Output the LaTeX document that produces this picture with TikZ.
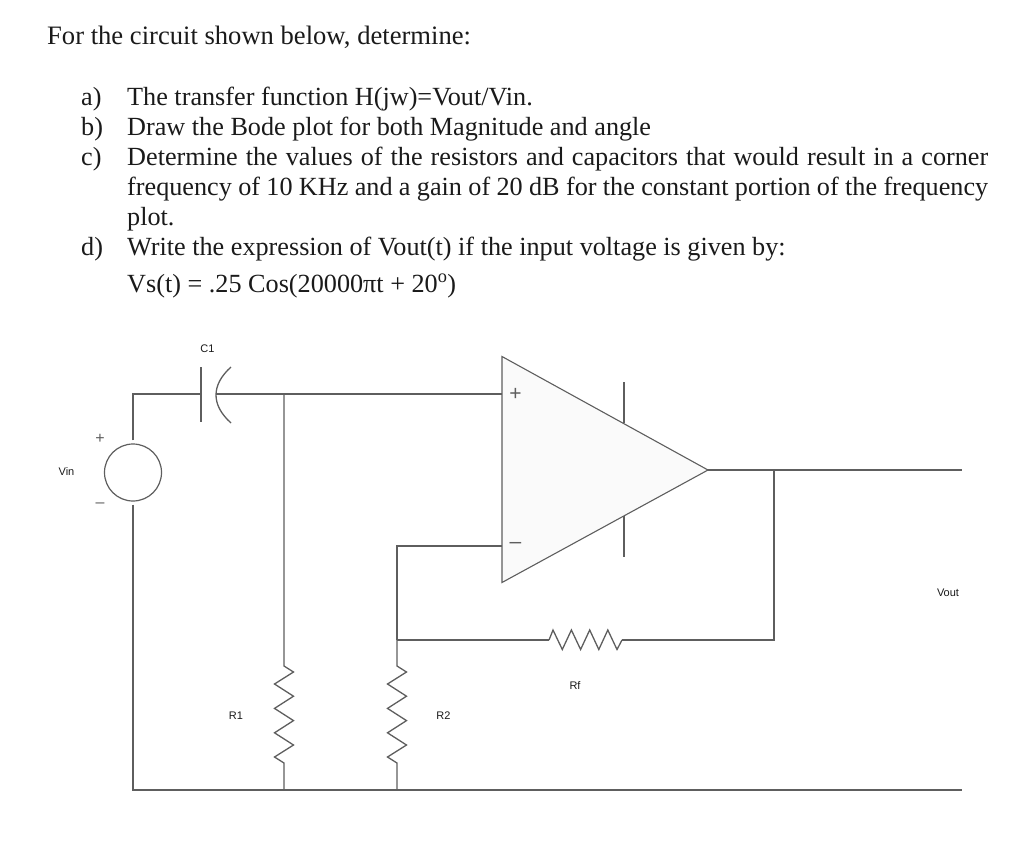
\documentclass[tikz,border=0pt]{standalone}
\usepackage{fontspec}
\setmainfont{Liberation Serif}
\setsansfont{Liberation Sans}
\definecolor{wirecol}{HTML}{5E5E5E}
\definecolor{inkcol}{HTML}{1A1A1A}
\tikzset{
  wire/.style={draw=wirecol,line width=1.3pt},
  para/.style={anchor=base west,inner sep=0pt,text=inkcol,font=\fontsize{26.2}{30}\selectfont},
  part/.style={inner sep=0pt,text=inkcol,font=\sffamily\fontsize{11}{12}\selectfont},
  sign/.style={inner sep=0pt,text=wirecol,font=\sffamily\fontsize{21}{21}\selectfont},
  smallsign/.style={inner sep=0pt,text=wirecol,font=\sffamily\fontsize{16}{16}\selectfont},
}
\begin{document}
\begin{tikzpicture}[x=1pt,y=-1pt]
    \useasboundingbox (0,0) rectangle (1024,843);
    % question text
    \node[para,font=\fontsize{26.6}{30}\selectfont] (q0) at (47,45) {For the circuit shown below, determine:};
    \node[para] (qa) at (81,105) {a)};
    \node[para] (ta) at (127,105) {The transfer function H(jw)=Vout/Vin.};
    \node[para] (qb) at (81,135) {b)};
    \node[para] (tb) at (127,135) {Draw the Bode plot for both Magnitude and angle};
    \node[para] (qc) at (81,165) {c)};
    \node[para] (tc) at (127,165) {\makebox[861pt][s]{Determine the values of the resistors and capacitors that would result in a corner}};
    \node[para] (tc2) at (127,195) {\makebox[861pt][s]{frequency of 10 KHz and a gain of 20 dB for the constant portion of the frequency}};
    \node[para] (tc3) at (127,225) {plot.};
    \node[para] (qd) at (81,255) {d)};
    \node[para] (td) at (127,255) {Write the expression of Vout(t) if the input voltage is given by:};
    \node[para] (td2) at (127,292) {Vs(t) = .25 Cos(20000πt + 20\textsuperscript{o})};
    % circuit points
    \coordinate (srctop) at (133,394);
    \coordinate (srcbot) at (133,790);
    \coordinate (plateL) at (201,394);
    \coordinate (plateR) at (216,394);
    \coordinate (jR1) at (284,394);
    \coordinate (inP) at (502,394);
    \coordinate (inM) at (502,546);
    \coordinate (cornerM) at (397,546);
    \coordinate (jR2) at (397,640);
    \coordinate (r1a) at (284,666);
    \coordinate (r1b) at (284,763);
    \coordinate (r2a) at (397,666);
    \coordinate (r2b) at (397,763);
    \coordinate (gndR1) at (284,790);
    \coordinate (gndR2) at (397,790);
    \coordinate (gndEnd) at (962,790);
    \coordinate (rfa) at (549,640);
    \coordinate (rfb) at (622,640);
    \coordinate (jOut) at (774,470);
    \coordinate (cornerF) at (774,640);
    \coordinate (outEnd) at (962,470);
    \coordinate (ampTop) at (502,356.5);
    \coordinate (ampBot) at (502,582.5);
    \coordinate (ampTip) at (708,470);
    % source
    \node[wire,circle,draw,minimum size=57pt,inner sep=0pt,line width=1.2pt] (vin) at (133,472.5) {};
    \draw[wire] (vin.north)++(0,-3) -- (srctop) -- (plateL);
    \draw[wire] (vin.south)++(0,3) -- (srcbot) -- (gndEnd);
    % capacitor
    \draw[wire] (201,367) -- (201,422);
    \draw[wire] (231,367) .. controls (211,385) and (211,405) .. (231,423);
    \draw[wire] (plateR) -- (inP);
    % op amp
    \draw[wire,line width=1.1pt,fill=black!2] (ampTop) -- (ampTip) -- (ampBot) -- cycle;
    \draw[wire] (624,382) -- (624,423);
    \draw[wire] (624,516) -- (624,557);
    \draw[wire] (inM) -- (cornerM) -- (jR2);
    \draw[wire] (ampTip) -- (outEnd);
    \draw[wire] (jOut) -- (cornerF) -- (rfb);
    \draw[wire] (rfa) -- (jR2);
    % resistors
    \draw[wire] (jR1) -- (r1a) -- ++(9.5,6) -- ++(-19,12) -- ++(19,12.2) -- ++(-19,12.2) -- ++(19,12.2) -- ++(-19,12.2) -- ++(19,12.2) -- ++(-19,12) -- (r1b) -- (gndR1);
    \draw[wire] (jR2) -- (r2a) -- ++(9.5,6) -- ++(-19,12) -- ++(19,12.2) -- ++(-19,12.2) -- ++(19,12.2) -- ++(-19,12.2) -- ++(19,12.2) -- ++(-19,12) -- (r2b) -- (gndR2);
    \draw[wire] (rfa) -- ++(4,-10) -- ++(9.3,19.5) -- ++(9.1,-19.5) -- ++(9.2,19.5) -- ++(9.1,-19.5) -- ++(9.1,19.5) -- ++(9,-19.5) -- ++(9.2,19.5) -- (rfb);
    % labels
    \node[part] (lC1) at (207.5,348.5) {C1};
    \node[part] (lVin) at (66.5,471.5) {Vin};
    \node[part] (lR1) at (236,715.5) {R1};
    \node[part] (lR2) at (443.5,715.5) {R2};
    \node[part] (lRf) at (575,686) {Rf};
    \node[part] (lVout) at (948,593) {Vout};
    \node[smallsign] (sP) at (100,439) {+};
    \node[smallsign] (sM) at (100,505) {–};
    \node[sign] (aP) at (515.5,394.5) {+};
    \node[sign] (aM) at (515.5,545) {–};
\end{tikzpicture}
\end{document}
